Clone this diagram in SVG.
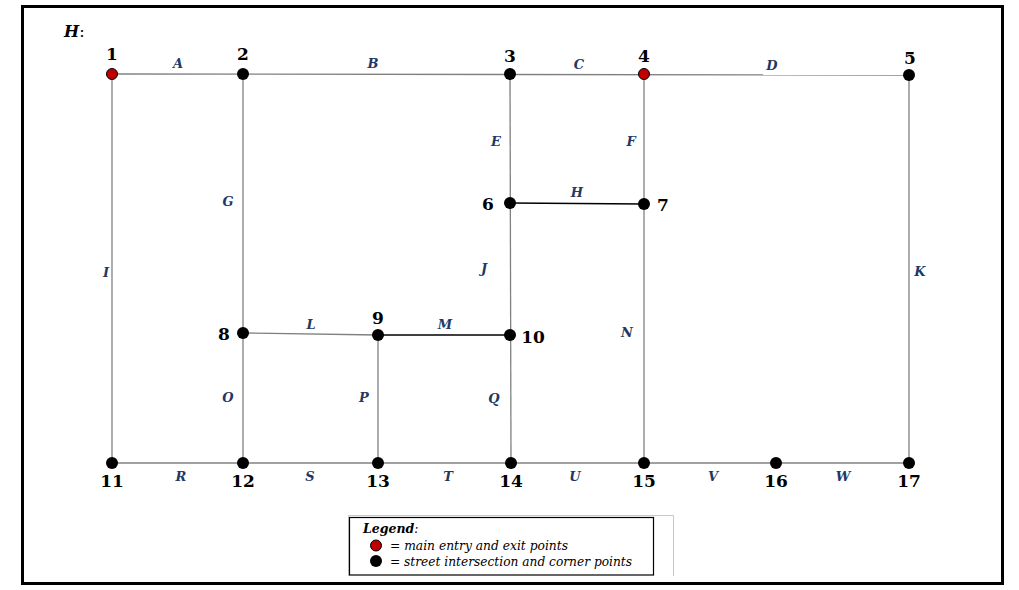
<svg xmlns="http://www.w3.org/2000/svg" width="1019" height="590" viewBox="0 0 1019 590">
<style>
.e{stroke:#808080;stroke-width:1.3;fill:none}
.ed{stroke:#000;stroke-width:1.4;fill:none}
.n{fill:#000}
.r{fill:#c00000;stroke:#000;stroke-width:1}
.num{font-family:"DejaVu Serif",serif;font-weight:bold;font-size:17px;fill:#000;text-anchor:middle}
.lab{font-family:"DejaVu Serif",serif;font-weight:bold;font-style:italic;font-size:13px;fill:#1f3864;text-anchor:middle}
.leg{font-family:"DejaVu Serif",serif;font-style:italic;font-size:13px;fill:#000}
</style>
<rect x="0" y="0" width="1019" height="590" fill="#fff"/>
<rect x="22.5" y="6.5" width="980" height="577" fill="none" stroke="#000" stroke-width="3"/>
<text x="64" y="37" font-family="DejaVu Serif,serif" font-weight="bold" font-style="italic" font-size="16">H<tspan font-style="normal" font-weight="normal">:</tspan></text>
<g id="connectors">
<line class="e" x1="112" y1="74" x2="909" y2="75"/>
<line class="e" x1="112" y1="74" x2="112" y2="463"/>
<line class="e" x1="243" y1="74" x2="243" y2="463"/>
<line class="e" x1="510" y1="74" x2="511" y2="463"/>
<line class="e" x1="644" y1="74" x2="644" y2="463"/>
<line class="e" x1="909" y1="75" x2="909" y2="463"/>
<line class="e" x1="112" y1="463" x2="909" y2="463"/>
<line class="ed" x1="510" y1="203" x2="644" y2="204" stroke="#404040"/>
<line class="e" x1="243" y1="333" x2="378" y2="335"/>
<line class="ed" x1="378" y1="335" x2="510" y2="335"/>
<line class="e" x1="378" y1="335" x2="378" y2="463"/>
</g>
<g id="edge-labels" class="lab">
<text x="178" y="68">A</text><text x="373" y="68">B</text><text x="579" y="69">C</text><text x="772" y="70">D</text>
<text x="496" y="146">E</text><text x="631" y="146">F</text><text x="228" y="206">G</text><text x="577" y="197">H</text>
<text x="106" y="277">I</text><text x="484" y="273">J</text><text x="920" y="276">K</text><text x="311" y="329">L</text>
<text x="445" y="329">M</text><text x="627" y="337">N</text><text x="228" y="402">O</text><text x="364" y="402">P</text>
<text x="494" y="403">Q</text><text x="181" y="481">R</text><text x="310" y="481">S</text><text x="448" y="481">T</text>
<text x="575" y="481">U</text><text x="713" y="481">V</text><text x="843" y="481">W</text>
</g>
<g id="n1"><circle class="r" cx="112" cy="74" r="5.5"/><text class="num" x="112" y="60">1</text></g>
<g id="n2"><circle class="n" cx="243" cy="74" r="6"/><text class="num" x="243" y="60">2</text></g>
<g id="n3"><circle class="n" cx="510" cy="74" r="6"/><text class="num" x="510" y="62">3</text></g>
<g id="n4"><circle class="r" cx="644" cy="74" r="5.5"/><text class="num" x="644" y="62">4</text></g>
<g id="n5"><circle class="n" cx="909" cy="75" r="6"/><text class="num" x="910" y="64">5</text></g>
<g id="n6"><circle class="n" cx="510" cy="203" r="6"/><text class="num" x="488" y="210">6</text></g>
<g id="n7"><circle class="n" cx="644" cy="204" r="6"/><text class="num" x="663" y="211">7</text></g>
<g id="n8"><circle class="n" cx="243" cy="333" r="6"/><text class="num" x="224" y="340">8</text></g>
<g id="n9"><circle class="n" cx="378" cy="335" r="6"/><text class="num" x="378" y="324">9</text></g>
<g id="n10"><circle class="n" cx="510" cy="335" r="6"/><text class="num" x="533" y="343">10</text></g>
<g id="n11"><circle class="n" cx="112" cy="463" r="6"/><text class="num" x="112" y="487">11</text></g>
<g id="n12"><circle class="n" cx="243" cy="463" r="6"/><text class="num" x="243" y="487">12</text></g>
<g id="n13"><circle class="n" cx="378" cy="463" r="6"/><text class="num" x="378" y="487">13</text></g>
<g id="n14"><circle class="n" cx="511" cy="463" r="6"/><text class="num" x="511" y="487">14</text></g>
<g id="n15"><circle class="n" cx="644" cy="463" r="6"/><text class="num" x="644" y="487">15</text></g>
<g id="n16"><circle class="n" cx="776" cy="463" r="6"/><text class="num" x="776" y="487">16</text></g>
<g id="n17"><circle class="n" cx="909" cy="463" r="6"/><text class="num" x="909" y="487">17</text></g>
<g id="legend">
<polyline points="348.5,576 348.5,515.5 673.5,515.5 673.5,576" fill="none" stroke="#c8c8c8" stroke-width="1"/>
<rect x="349.5" y="517.5" width="304" height="57.5" fill="#fff" stroke="#000" stroke-width="1.2"/>
<text x="363" y="533" font-family="DejaVu Serif,serif" font-weight="bold" font-style="italic" font-size="12.5">Legend<tspan font-weight="normal">:</tspan></text>
<circle class="r" cx="376" cy="545.5" r="5.5"/>
<text class="leg" x="390" y="550" textLength="178" lengthAdjust="spacingAndGlyphs">= main entry and exit points</text>
<circle class="n" cx="376" cy="561" r="6"/>
<text class="leg" x="390" y="566" textLength="242" lengthAdjust="spacingAndGlyphs">= street intersection and corner points</text>
</g>
</svg>
